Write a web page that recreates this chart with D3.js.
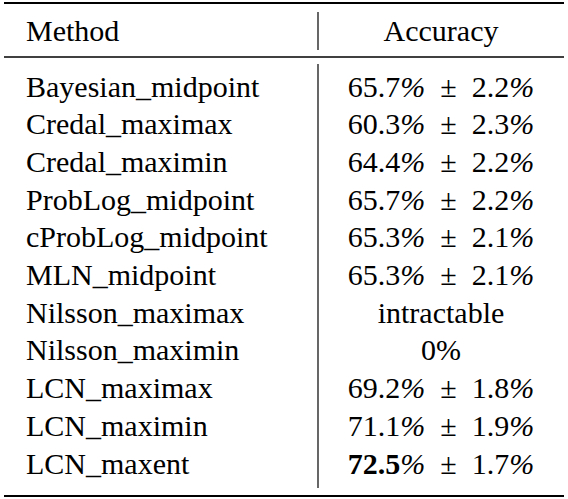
<!DOCTYPE html>
<html><head><meta charset="utf-8">
<script src="https://cdn.jsdelivr.net/npm/d3@7"></script>
<style>body{margin:0;background:#fff} text{font-family:"Liberation Serif","Times New Roman","DejaVu Serif",serif}</style></head>
<body><svg id="c" width="568" height="499"></svg>
<script>
const headers = ["Method", "Accuracy"];
const methods = ["Bayesian_midpoint","Credal_maximax","Credal_maximin","ProbLog_midpoint","cProbLog_midpoint","MLN_midpoint","Nilsson_maximax","Nilsson_maximin","LCN_maximax","LCN_maximin","LCN_maxent"];
const accuracy = [65.7,60.3,64.4,65.7,65.3,65.3,null,0,69.2,71.1,72.5];
const errors = [2.2,2.3,2.2,2.2,2.1,2.1,null,null,1.8,1.9,1.7];
const labels = ["","","","","","","intractable","0%","","",""];
const best = 10;

const svg = d3.select("#c");
const fs = 30;
const y = d3.scalePoint().domain(d3.range(methods.length)).range([86, 463]);
const xL = 26, xC = 441, xV = 318;

svg.append("line").attr("x1",4).attr("x2",564).attr("y1",3).attr("y2",3).attr("stroke","#000").attr("stroke-width",2);
svg.append("line").attr("x1",4).attr("x2",564).attr("y1",57).attr("y2",57).attr("stroke","#000").attr("stroke-width",1.3);
svg.append("line").attr("x1",4).attr("x2",564).attr("y1",496).attr("y2",496).attr("stroke","#000").attr("stroke-width",2);
svg.append("line").attr("x1",xV).attr("x2",xV).attr("y1",12).attr("y2",50).attr("stroke","#000").attr("stroke-width",1.2);
svg.append("line").attr("x1",xV).attr("x2",xV).attr("y1",64).attr("y2",488).attr("stroke","#000").attr("stroke-width",1.2);

svg.append("text").attr("x",xL).attr("y",30).attr("dy","0.35em").attr("font-size",fs).text(headers[0]);
svg.append("text").attr("x",xC).attr("y",30).attr("dy","0.35em").attr("text-anchor","middle").attr("font-size",fs).text(headers[1]);

const rows = svg.selectAll("g.r").data(methods).join("g").attr("class","r");
rows.append("text").attr("x",xL).attr("y",(d,i)=>y(i)).attr("dy","0.35em").attr("font-size",fs).text(d=>d);
rows.append("text").attr("x",xC).attr("y",(d,i)=>y(i)).attr("dy","0.35em").attr("text-anchor","middle").attr("font-size",fs)
  .each(function(d,i){
    const t = d3.select(this);
    if (labels[i]) { t.text(labels[i]); return; }
    t.append("tspan").attr("font-weight", i===best?"bold":null).text(accuracy[i].toFixed(1));
    t.append("tspan").attr("font-style","italic").text("%");
    t.append("tspan").text("\u2002±\u2002" + errors[i].toFixed(1));
    t.append("tspan").attr("font-style","italic").text("%");
  });
</script></body></html>
